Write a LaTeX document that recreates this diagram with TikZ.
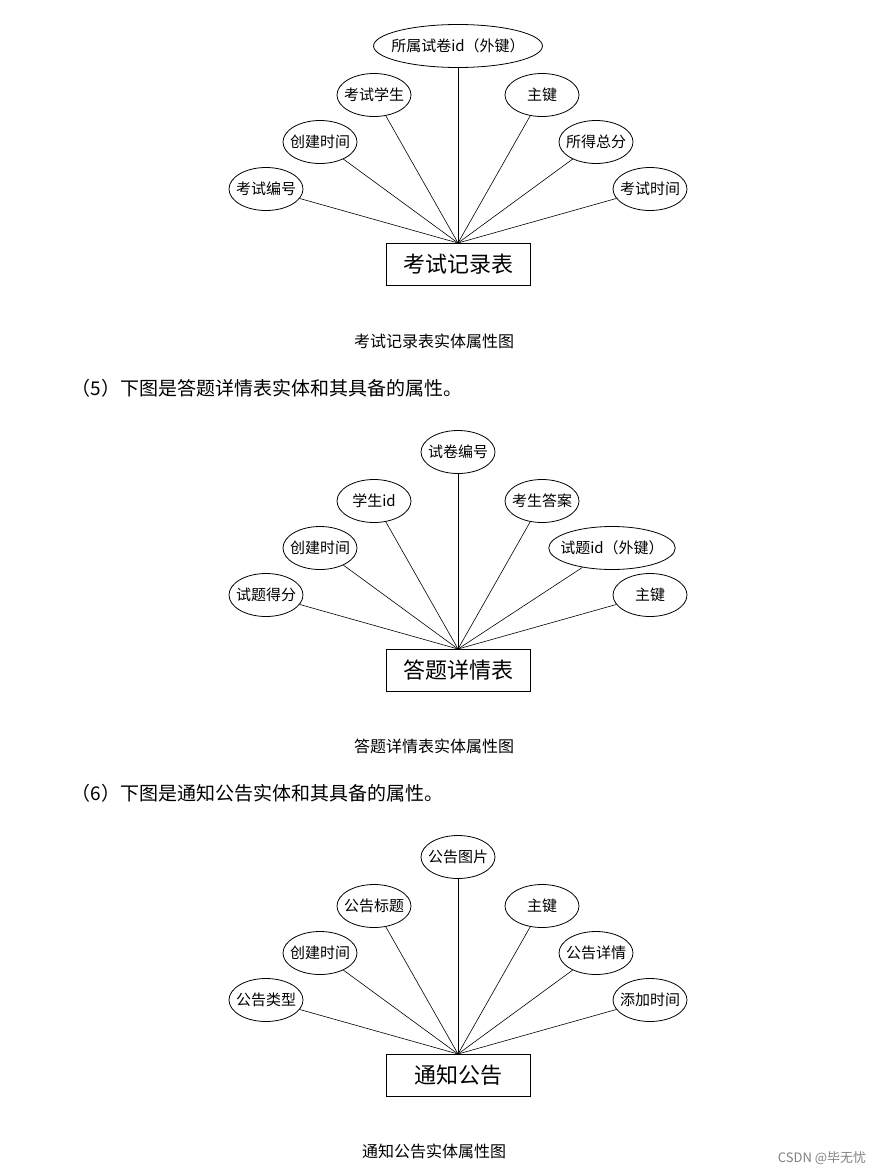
\documentclass[tikz,border=0pt]{standalone}
\usepackage{fontspec}
\setmainfont{Liberation Serif}
\newfontfamily\cjk{Noto Sans CJK SC}
\usetikzlibrary{shapes.geometric}
\tikzset{
 attr/.style={ellipse,draw,line width=0.8pt,minimum width=74pt,minimum height=43pt,inner xsep=-7pt,inner ysep=0pt,font=\cjk\fontsize{15}{15}\selectfont},
 ent/.style={rectangle,draw,line width=0.8pt,minimum width=144pt,minimum height=42pt,font=\cjk\fontsize{22}{22}\selectfont},
 lnk/.style={line width=0.6pt},
 captxt/.style={font=\cjk\fontsize{16}{16}\selectfont},
 para/.style={anchor=west,font=\cjk\fontsize{19}{19}\selectfont}
}
\begin{document}
\begin{tikzpicture}[x=1pt,y=-1pt]
\useasboundingbox (0,0) rectangle (886,1175);
\foreach \dy/\ent/\tp/\tl/\tr/\ml/\mr/\bl/\br/\tw/\mrw in {
 0/考试记录表/所属试卷id（外键）/考试学生/主键/创建时间/所得总分/考试编号/考试时间/136/74,
 406/答题详情表/试卷编号/学生id/考生答案/创建时间/试题id（外键）/试题得分/主键/74/106,
 811/通知公告/公告图片/公告标题/主键/创建时间/公告详情/公告类型/添加时间/74/74}{
 \begin{scope}[yshift=-\dy pt]
 \node[ent] (E) at (458,264) {\ent};
 \coordinate (C) at (458,243);
 \node[attr,minimum width=\tw pt] (T) at (458,46) {\tp};
 \node[attr] (TL) at (374,95) {\tl};
 \node[attr] (TR) at (542,95) {\tr};
 \node[attr] (ML) at (320,142) {\ml};
 \node[attr,minimum width=\mrw pt] (MR) at (596+\mrw/2-37,142) {\mr};
 \node[attr] (BL) at (266,189) {\bl};
 \node[attr] (BR) at (650,189) {\br};
 \foreach \n in {T,TL,TR,ML,MR,BL,BR} \draw[lnk] (\n) -- (C);
 \end{scope}}
\node[captxt] (cap1) at (434,341) {考试记录表实体属性图};
\node[captxt] (cap2) at (434,746) {答题详情表实体属性图};
\node[captxt] (cap3) at (434,1151) {通知公告实体属性图};
\node[para] (p5) at (68,388) {（5）下图是答题详情表实体和其具备的属性。};
\node[para] (p6) at (68,793) {（6）下图是通知公告实体和其具备的属性。};
\node[font=\cjk\fontsize{13}{13}\selectfont,text=gray] (wm) at (822,1158) {CSDN @毕无忧};
\end{tikzpicture}
\end{document}
